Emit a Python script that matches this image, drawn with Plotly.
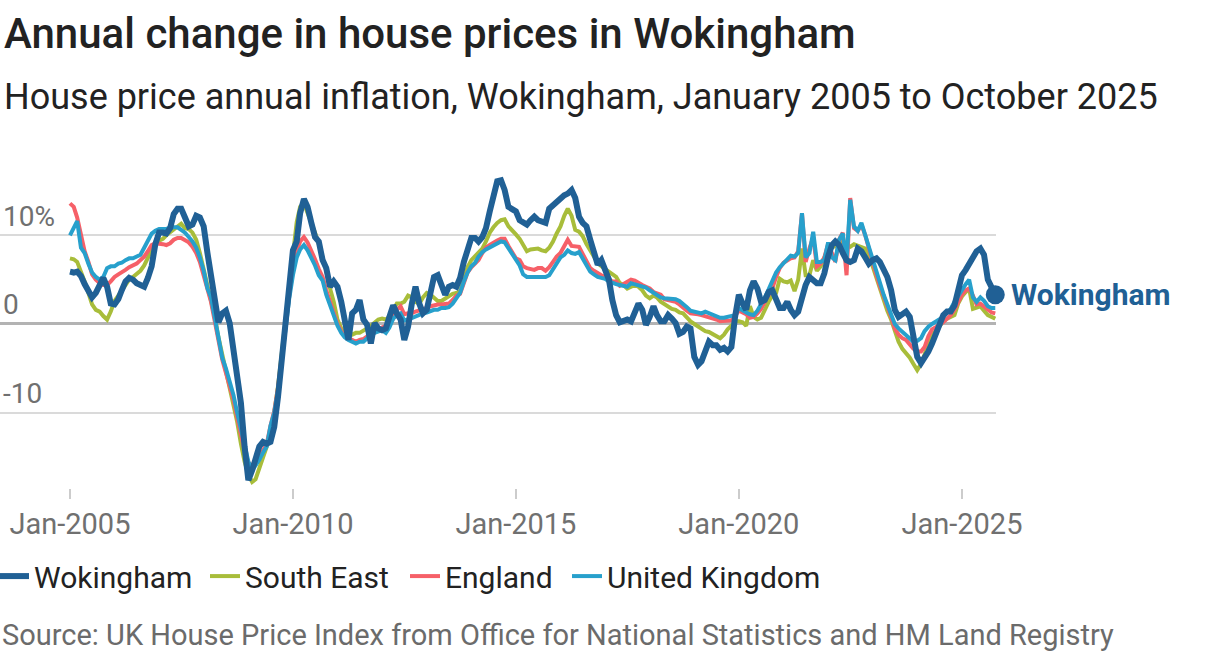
import plotly.graph_objects as go
import pandas as pd

# Monthly observations, January 2005 to October 2025
months = pd.date_range("2005-01-01", "2025-10-01", freq="MS")

wokingham = [
    5.9, 5.8, 5.9, 5.4, 4.5, 3.7, 3.0, 3.5, 4.5, 5.2, 4.2, 2.3,
    2.2, 2.8, 3.8, 4.8, 5.2, 5.0, 4.6, 4.3, 4.2, 5.2, 6.5, 9.0,
    10.3, 10.3, 10.2, 10.8, 12.4, 13.0, 13.0, 12.0, 11.0, 11.2, 12.2, 12.0,
    11.0, 8.0, 5.5, 3.0, 0.2, 1.2, 1.5, 0.1, -2.6, -5.9, -8.9, -13.8,
    -17.6, -16.5, -15.0, -13.8, -13.3, -13.5, -13.3, -11.6, -8.2, -3.7, 0.8, 5.0,
    8.3, 9.3, 12.5, 14.1, 13.2, 11.4, 9.8, 9.3, 7.2, 6.3, 4.2, 4.8,
    4.2, 2.5, 0.1, -1.8, 1.2, 1.6, 2.7, 0.5, -0.1, -2.2, 0.1, -0.5,
    -0.7, -0.5, 0.8, 2.1, 1.2, 0.5, -1.8, -0.3, 2.3, 4.2, 2.3, 1.2,
    1.6, 3.5, 5.3, 5.5, 4.6, 3.3, 4.2, 4.4, 4.2, 5.2, 7.0, 8.2,
    9.7, 9.7, 9.3, 9.8, 10.8, 12.7, 14.4, 16.1, 16.2, 15.1, 13.2, 12.9,
    12.7, 11.7, 11.4, 11.2, 11.7, 12.1, 11.7, 11.5, 11.4, 13.0, 13.4, 13.6,
    14.0, 14.5, 14.7, 15.1, 14.2, 12.1, 11.4, 11.0, 9.5, 8.3, 6.7, 7.2,
    5.9, 5.0, 2.7, 1.0, 0.2, 0.3, 0.5, 0.3, 1.4, 2.3, 1.6, -0.1,
    0.8, 2.0, 1.0, 0.3, 0.3, 1.0, 0.6, 0.1, -1.1, -0.9, -0.3, -0.5,
    -3.7, -4.6, -4.2, -3.0, -2.0, -2.4, -2.4, -2.9, -2.7, -3.1, -2.6, 0.8,
    3.3, 2.3, 1.6, 3.8, 4.8, 4.0, 2.5, 2.7, 3.6, 3.8, 2.7, 1.8,
    1.8, 2.5, 1.6, 1.0, 1.4, 3.1, 4.4, 5.3, 5.0, 4.6, 4.6, 5.7,
    7.6, 8.9, 9.3, 8.9, 8.0, 7.2, 7.0, 7.2, 8.5, 8.2, 7.5, 6.8,
    7.2, 7.4, 7.0, 6.3, 5.3, 3.8, 1.6, 0.8, 1.2, 1.4, 0.8, -1.1,
    -3.7, -4.4, -3.9, -3.1, -2.2, -1.1, 0.3, 1.0, 1.4, 1.4, 2.1, 4.0,
    5.5, 6.1, 6.7, 7.4, 8.2, 8.5, 7.8, 5.0, 4.0, 3.3,
]

south_east = [
    7.4, 7.3, 7.0, 6.0, 4.8, 3.5, 2.2, 1.6, 1.4, 0.9, 0.5, 1.4,
    2.6, 3.2, 3.8, 4.4, 5.0, 5.3, 5.6, 6.0, 6.6, 7.4, 8.4, 9.2,
    9.4, 9.6, 10.0, 10.3, 10.6, 11.0, 11.3, 10.8, 10.7, 10.3, 9.5, 8.0,
    6.2, 4.5, 3.0, 0.8, -1.5, -3.5, -5.5, -7.5, -9.0, -11.0, -13.5, -15.5,
    -17.0, -17.8, -17.5, -16.3, -15.0, -13.8, -12.0, -10.0, -7.0, -3.2, 0.5, 4.5,
    8.0, 11.5, 13.2, 13.6, 12.5, 11.5, 10.3, 9.0, 7.5, 6.0, 4.0, 2.5,
    0.5, -0.5, -1.0, -1.2, -1.2, -1.0, -1.0, -0.8, -0.5, -0.2, 0.2, 0.5,
    0.6, 0.5, 0.8, 1.6, 2.3, 2.3, 2.5, 3.2, 3.0, 2.5, 2.3, 3.0,
    3.5, 3.3, 3.0, 2.6, 2.6, 2.9, 3.2, 3.4, 3.5, 3.7, 5.0, 6.4,
    7.2, 7.6, 8.0, 8.5, 9.3, 10.3, 10.9, 11.4, 11.7, 11.8, 11.0, 10.6,
    10.1, 9.6, 9.0, 8.2, 8.4, 8.5, 8.5, 8.3, 8.2, 8.6, 9.3, 10.2,
    11.0, 12.2, 13.0, 12.2, 10.6, 10.4, 9.9, 9.0, 8.3, 7.6, 6.9, 6.5,
    6.2, 5.8, 5.5, 5.3, 4.6, 4.4, 4.0, 4.2, 4.4, 4.2, 3.8, 3.2,
    2.9, 3.2, 3.0, 2.5, 2.2, 2.0, 1.7, 1.6, 1.3, 1.2, 0.7, 0.3,
    0.0, -0.3, -0.6, -0.8, -0.9, -1.1, -1.3, -1.6, -1.2, -0.6, -0.2, 0.3,
    0.3, 0.2, -0.2, 2.0, 0.8, 0.5, 0.7, 1.7, 2.5, 3.2, 3.5, 5.1,
    4.8, 4.7, 4.9, 3.7, 5.0, 8.5, 5.5, 5.5, 7.2, 6.0, 6.5, 7.5,
    8.4, 8.6, 8.8, 8.8, 9.3, 8.8, 8.7, 9.0, 8.8, 8.6, 8.5, 7.5,
    6.5, 5.2, 4.0, 2.5, 1.5, 0.5, -0.8, -2.0, -2.8, -3.3, -3.8, -4.5,
    -5.2, -4.5, -3.5, -2.2, -1.2, -0.8, -0.3, 0.3, 0.6, 0.8, 1.0, 2.3,
    3.1, 3.6, 4.0, 1.7, 1.8, 2.0, 1.5, 1.0, 0.8, 0.6,
]

england = [
    13.6, 13.2, 12.0, 10.0, 8.2, 7.0, 5.6, 5.0, 4.6, 4.4, 4.4, 4.8,
    5.3, 5.6, 5.9, 6.1, 6.4, 6.6, 6.8, 7.2, 7.6, 8.2, 8.9, 9.1,
    9.1, 9.0, 8.9, 9.1, 9.5, 9.7, 9.7, 9.5, 9.2, 8.7, 8.0, 7.0,
    5.5, 3.8, 2.5, 0.3, -2.0, -4.0, -5.5, -7.0, -8.5, -10.5, -12.5, -14.3,
    -15.6, -16.0, -15.8, -15.0, -14.3, -13.5, -11.5, -9.8, -7.2, -3.5, -0.2, 3.2,
    6.0, 8.2, 9.3, 9.8, 9.2, 8.3, 7.3, 6.2, 5.3, 3.8, 2.5, 1.2,
    0.0, -0.8, -1.4, -1.6, -1.8, -2.0, -1.8, -1.7, -1.4, -1.0, -0.8, -0.6,
    -0.4, -0.3, 0.0, 0.6, 1.6, 2.0, 1.1, 1.2, 1.2, 1.4, 1.5, 1.6,
    1.8, 2.0, 2.1, 2.2, 2.2, 2.3, 2.3, 2.7, 3.2, 3.4, 4.7, 5.8,
    6.4, 6.9, 7.2, 8.0, 8.6, 8.9, 9.2, 9.4, 9.6, 9.6, 8.8, 8.0,
    7.4, 7.2, 6.5, 6.3, 6.2, 6.1, 6.3, 6.3, 6.0, 6.4, 7.0, 7.6,
    8.0, 8.8, 9.5, 8.8, 8.8, 8.7, 7.9, 7.2, 6.3, 6.0, 5.7, 5.5,
    5.3, 5.0, 4.8, 4.8, 4.3, 4.5, 4.8, 5.0, 4.9, 4.6, 4.4, 4.2,
    4.0, 3.6, 3.5, 3.3, 2.8, 2.7, 2.6, 2.5, 2.2, 1.8, 1.5, 1.2,
    1.2, 1.1, 1.0, 0.9, 0.8, 0.7, 0.5, 0.3, 0.3, 0.3, 0.4, 0.9,
    1.5, 1.3, 1.1, 0.7, 0.8, 1.2, 1.7, 2.5, 3.2, 4.0, 5.3, 6.3,
    6.9, 7.2, 7.4, 7.5, 8.2, 12.5, 7.0, 8.5, 9.8, 6.5, 6.8, 7.5,
    9.0, 8.0, 7.0, 9.5, 10.3, 5.5, 14.2, 10.8, 10.5, 11.2, 10.0, 8.5,
    6.8, 5.5, 4.3, 3.0, 2.0, 0.8, -0.5, -1.2, -1.6, -1.8, -2.3, -2.8,
    -3.1, -3.1, -2.6, -1.4, -0.6, -0.4, -0.1, 0.2, 0.6, 1.0, 1.6, 2.5,
    3.3, 3.8, 4.0, 3.2, 2.2, 2.3, 2.0, 1.6, 1.3, 1.2,
]

united_kingdom = [
    10.0, 10.9, 11.6, 8.6, 8.0, 6.8, 5.8, 5.3, 5.0, 5.3, 6.3, 6.5,
    6.5, 6.8, 6.9, 7.2, 7.4, 7.4, 7.6, 7.8, 8.6, 9.4, 10.2, 10.5,
    10.7, 10.7, 10.7, 10.9, 10.9, 10.9, 10.6, 10.3, 9.8, 9.3, 8.6, 7.5,
    6.0, 4.0, 3.0, 0.5, -1.8, -3.8, -5.0, -6.5, -8.0, -10.0, -12.0, -14.0,
    -15.5, -16.5, -16.0, -15.3, -14.5, -13.8, -11.5, -10.0, -7.5, -3.8, -0.5, 2.8,
    5.5, 7.5, 8.4, 8.9, 8.3, 7.5, 6.6, 5.5, 4.9, 3.3, 2.0, 1.0,
    -0.2, -1.0, -1.5, -1.8, -2.0, -2.2, -2.0, -2.0, -1.6, -1.2, -1.0, -0.8,
    -0.7, -1.0, -0.4, 0.6, 1.0, 1.2, 0.4, 0.5, 0.7, 0.9, 1.0, 1.2,
    1.3, 1.5, 1.6, 1.6, 1.8, 1.8, 1.9, 2.3, 2.9, 3.5, 4.8, 5.8,
    6.5, 6.9, 7.6, 8.1, 8.4, 8.6, 8.9, 9.1, 9.3, 9.2, 8.5, 7.8,
    7.2, 6.6, 5.6, 5.3, 5.3, 5.3, 5.2, 5.2, 5.3, 5.5, 6.2, 7.0,
    7.5, 7.8, 8.3, 8.0, 7.9, 8.1, 7.4, 6.6, 5.9, 5.6, 5.3, 5.2,
    5.1, 4.8, 4.6, 4.5, 4.4, 4.3, 4.2, 4.6, 4.5, 4.4, 4.2, 4.1,
    3.8, 3.5, 3.3, 3.0, 2.9, 2.9, 2.9, 2.8, 2.6, 2.3, 1.9, 1.5,
    1.4, 1.3, 1.2, 1.4, 1.2, 1.1, 0.9, 0.7, 0.7, 0.8, 0.8, 1.0,
    1.8, 1.5, 1.3, 1.1, 1.0, 1.5, 2.2, 3.0, 3.9, 4.8, 5.8, 6.4,
    6.8, 7.2, 7.7, 7.6, 8.0, 12.5, 7.5, 8.0, 10.4, 7.0, 7.0, 7.2,
    9.2, 7.5, 7.2, 9.5, 10.2, 7.0, 14.0, 11.0, 10.5, 11.4, 10.0, 8.5,
    7.0, 5.8, 4.5, 3.3, 2.2, 1.1, 0.0, -0.5, -0.9, -1.2, -1.6, -2.0,
    -1.9, -1.6, -0.8, -0.3, 0.0, 0.3, 0.6, 0.8, 1.3, 1.7, 2.5, 3.2,
    3.8, 4.5, 5.0, 3.0, 2.5, 3.0, 2.6, 2.0, 1.8, 1.8,
]

x_tick_dates = ["2005-01-01", "2010-01-01", "2015-01-01", "2020-01-01", "2025-01-01"]
x_tick_labels = ["Jan-2005", "Jan-2010", "Jan-2015", "Jan-2020", "Jan-2025"]
y_tick_values = [-10, 0, 10]
y_tick_labels = ["-10", "0", "10%"]

DARK_BLUE = "#206095"
GREEN = "#a8bd3a"
CORAL = "#f66068"
LIGHT_BLUE = "#27a0cc"
FONT = "Roboto, 'Liberation Sans', Arial, sans-serif"
PLOT_W = 996

fig = go.Figure()
# (name, values, colour, line width, legend id, legend text start in px)
series = [
    ("South East", south_east, GREEN, 4, "legend2", 245),
    ("England", england, CORAL, 4, "legend3", 445),
    ("United Kingdom", united_kingdom, LIGHT_BLUE, 4, "legend4", 607),
    ("Wokingham", wokingham, DARK_BLUE, 6, "legend", 34),
]
legend_common = dict(
    orientation="h", xref="paper", xanchor="left",
    y=-0.277, yanchor="middle",
    font=dict(family=FONT, size=30, color="#222222"),
    itemwidth=30, bgcolor="rgba(0,0,0,0)", borderwidth=0,
)
legend_layouts = {}
for name, vals, color, width, leg, text_x in series:
    fig.add_trace(go.Scatter(
        x=months, y=vals, name=name, mode="lines",
        line=dict(color=color, width=width),
        legend=leg, hoverinfo="skip",
    ))
    legend_layouts[leg] = dict(legend_common, x=(text_x - 40) / PLOT_W)

fig.add_trace(go.Scatter(
    x=[months[-1]], y=[wokingham[-1]], mode="markers",
    marker=dict(size=19, color=DARK_BLUE), showlegend=False,
    cliponaxis=False, hoverinfo="skip",
))

fig.add_annotation(
    x=months[-1], y=wokingham[-1], xref="x", yref="y",
    text="<b>Wokingham</b>", showarrow=False, xanchor="left", yanchor="middle",
    xshift=14, font=dict(family=FONT, size=30, color=DARK_BLUE),
)

# Title, subtitle, source
fig.add_annotation(
    text="Annual change in house prices in Wokingham",
    xref="paper", yref="paper", x=0, y=1, xanchor="left", yanchor="middle",
    xshift=2, yshift=137, showarrow=False,
    font=dict(family=FONT, size=42, color="#222222", weight=500),
)
fig.add_annotation(
    text="House price annual inflation, Wokingham, January 2005 to October 2025",
    xref="paper", yref="paper", x=0, y=1, xanchor="left", yanchor="middle",
    xshift=2, yshift=73, showarrow=False,
    font=dict(family=FONT, size=36, color="#222222"),
)
fig.add_annotation(
    text="Source: UK House Price Index from Office for National Statistics and HM Land Registry",
    xref="paper", yref="paper", x=0, y=0, xanchor="left", yanchor="middle",
    xshift=0, yshift=-147, showarrow=False,
    font=dict(family=FONT, size=29, color="#6b6b6b"),
)

fig.update_layout(
    width=1216, height=656,
    margin=dict(l=0, r=220, t=170, b=168, pad=0, autoexpand=False),
    paper_bgcolor="white", plot_bgcolor="white",
    font=dict(family=FONT, color="#222222"),
    showlegend=True,
    xaxis=dict(
        type="date", range=["2003-06-08", "2025-10-07"],
        tickmode="array", tickvals=x_tick_dates, ticktext=x_tick_labels,
        ticks="outside", ticklen=10, tickwidth=2, tickcolor="#cccccc",
        showgrid=False, showline=False, zeroline=False,
        tickfont=dict(family=FONT, size=29, color="#707070"),
        fixedrange=True, automargin=False,
    ),
    yaxis=dict(
        range=[-18.49, 17.36],
        tickmode="array", tickvals=y_tick_values, ticktext=y_tick_labels,
        ticklabelposition="inside top", ticks="",
        showgrid=True, gridcolor="#dadada", gridwidth=2,
        zeroline=True, zerolinecolor="#b3b3b3", zerolinewidth=3,
        showline=False,
        tickfont=dict(family=FONT, size=28, color="#707070"),
        fixedrange=True, automargin=False,
    ),
    **legend_layouts,
)

fig.write_html("out.html")
